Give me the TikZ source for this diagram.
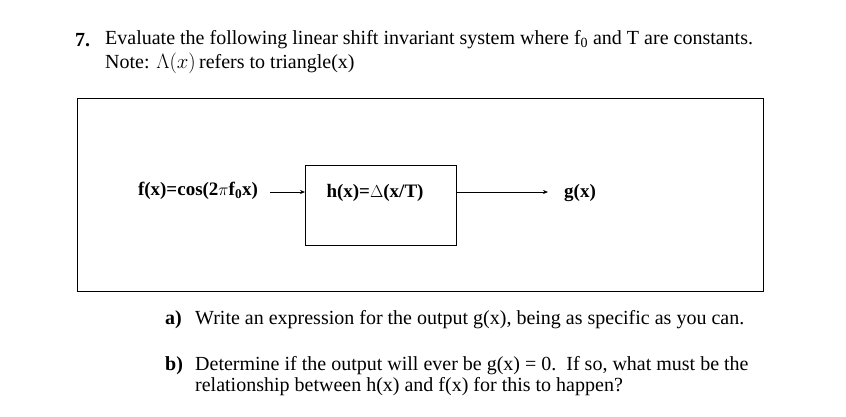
\documentclass[tikz,border=0pt]{standalone}
\usepackage{fontspec}
\setmainfont{Liberation Serif}
\usetikzlibrary{arrows.meta}
\begin{document}
\begin{tikzpicture}[x=1pt,y=-1pt,
  txt/.style={anchor=west,inner sep=0pt,font=\fontsize{20}{23}\selectfont},
  lbl/.style={inner sep=0pt,font=\bfseries\fontsize{19}{21}\selectfont},
  arr/.style={-{Stealth[length=5pt,width=4pt]},line width=0.6pt}]
\useasboundingbox (0,0) rectangle (846,416);
\node[txt] (n7) at (75,40) {\textbf{7.}};
\node[txt] (t1) at (105,40) {Evaluate the following linear shift invariant system where f\textsubscript{0} and T are constants.};
\node[txt] (t2) at (105,63) {Note: $\Lambda(x)$\,refers to triangle(x)};
\node[draw,line width=0.8pt,minimum width=686,minimum height=193,anchor=north west,inner sep=0pt] (outer) at (77,98) {};
\node[draw,line width=0.8pt,minimum width=151,minimum height=80,anchor=north west,inner sep=0pt] (box) at (305,165) {};
\node[lbl] (f) at (198,191) {f(x)=cos(2$\pi$f\textsubscript{0}x)};
\node[lbl] (h) at (375,193) {h(x)=$\Delta$(x/T)};
\node[lbl] (g) at (580,193) {g(x)};
\coordinate (fa) at (270,192);
\coordinate (ga) at (548,192);
\draw[arr] (fa) -- (box.west |- fa);
\draw[arr] (box.east |- ga) -- (ga);
\node[txt] (a) at (165,320) {\textbf{a)}};
\node[txt] (at) at (195,320) {Write an expression for the output g(x), being as specific as you can.};
\node[txt] (b) at (165,366) {\textbf{b)}};
\node[txt] (bt1) at (195,366) {Determine if the output will ever be g(x) = 0.\ \ If so, what must be the};
\node[txt] (bt2) at (195,387) {relationship between h(x) and f(x) for this to happen?};
\end{tikzpicture}
\end{document}
